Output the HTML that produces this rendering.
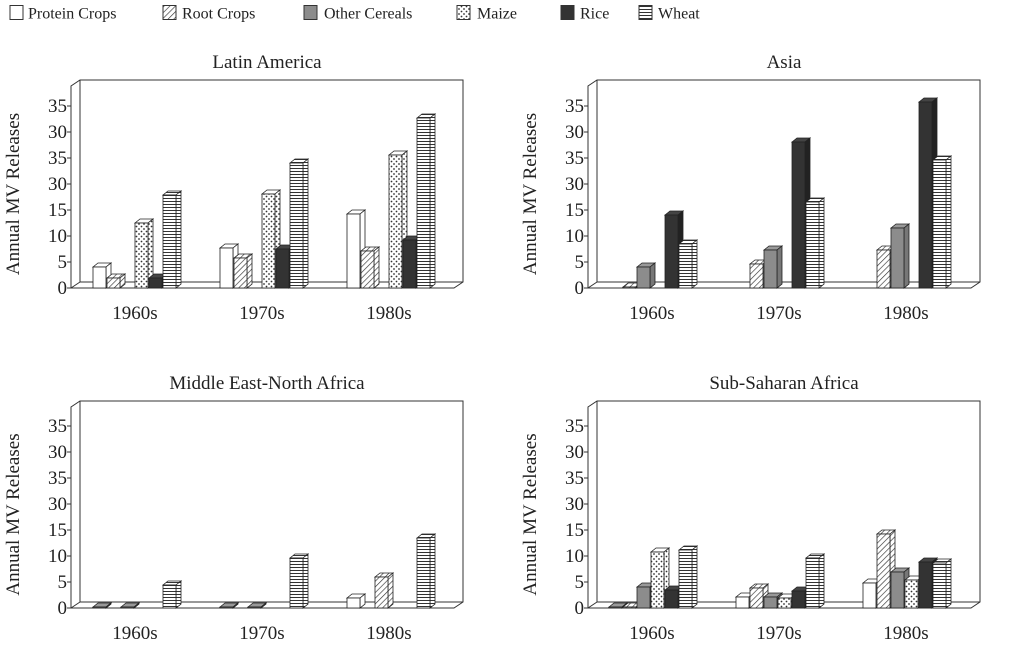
<!DOCTYPE html><html><head><meta charset="utf-8"><style>
body{margin:0;background:#fff}svg{display:block}
text{font-family:"Liberation Serif",serif;fill:#222}
</style></head><body>
<svg id="s" width="1024" height="647" xmlns="http://www.w3.org/2000/svg">
<defs>
<pattern id="hatch" width="4" height="4" patternUnits="userSpaceOnUse" patternTransform="rotate(45)"><rect width="4" height="4" fill="#fff"/><line x1="0" y1="0" x2="0" y2="4" stroke="#333" stroke-width="1.3"/></pattern>
<pattern id="dots" width="5" height="5" patternUnits="userSpaceOnUse"><rect width="5" height="5" fill="#fff"/><circle cx="1.5" cy="1.5" r="0.9" fill="#333"/><circle cx="4" cy="4" r="0.9" fill="#333"/></pattern>
<pattern id="hl" width="4" height="3" patternUnits="userSpaceOnUse"><rect width="4" height="3" fill="#fff"/><line x1="0" y1="0.5" x2="4" y2="0.5" stroke="#333" stroke-width="1"/></pattern>
</defs>
<g id="g"></g>
</svg>
<script>
var g=document.getElementById('g'),h='';
var fills=['#fff','url(#hatch)','#8c8c8c','url(#dots)','#333','url(#hl)'];
var sides=['#fff','url(#hatch)','#777','url(#dots)','#222','url(#hl)'];
var tops=['#fff','url(#hatch)','#999','#fff','#444','url(#hl)'];
var L=[[10,28,'Protein Crops'],[163,182,'Root Crops'],[304,324,'Other Cereals'],[457,477,'Maize'],[561,580,'Rice'],[639,658,'Wheat']];
L.forEach(function(l,i){h+='<rect x="'+l[0]+'" y="5.5" width="13" height="14" fill="'+fills[i]+'" stroke="#333"/>';h+='<text x="'+l[1]+'" y="18.5" font-size="16">'+l[2]+'</text>';});
function panel(ax,top,base,title,bars){
 var bx=ax+9,by=top,rx=ax+392,bb=base-6;
 h+='<text x="'+(ax+196)+'" y="'+(top-12)+'" font-size="19" text-anchor="middle">'+title+'</text>';
 h+='<polyline points="'+ax+','+base+' '+ax+','+(top+6)+' '+bx+','+top+' '+rx+','+top+' '+rx+','+bb+' '+(rx-9)+','+base+' '+ax+','+base+'" fill="none" stroke="#333" stroke-width="1"/>';
 h+='<polyline points="'+bx+','+top+' '+bx+','+bb+' '+rx+','+bb+'" fill="none" stroke="#333" stroke-width="1"/>';
 h+='<line x1="'+ax+'" y1="'+base+'" x2="'+bx+'" y2="'+bb+'" stroke="#333"/>';
 var lab=['0','5','10','15','30','35','30','35'];
 for(var i=0;i<8;i++){var y=base-26*i;h+='<line x1="'+(ax-4)+'" y1="'+y+'" x2="'+ax+'" y2="'+y+'" stroke="#333"/>';h+='<text x="'+(ax-4)+'" y="'+(y+6)+'" font-size="19" text-anchor="end">'+lab[i]+'</text>';}
 var cy=(top+base)/2+10;
 h+='<text transform="translate('+(ax-52)+','+cy+') rotate(-90)" font-size="19" text-anchor="middle">Annual MV Releases</text>';
 ['1960s','1970s','1980s'].forEach(function(t,k){h+='<text x="'+(ax+64+127*k)+'" y="'+(base+31)+'" font-size="19" text-anchor="middle">'+t+'</text>';});
 bars.forEach(function(b){var x=b[0],yt=b[1],c=b[2],w=13,dx=5,dy=4;if(yt>base-1)yt=base-1;
  h+='<polygon points="'+x+','+yt+' '+(x+dx)+','+(yt-dy)+' '+(x+w+dx)+','+(yt-dy)+' '+(x+w)+','+yt+'" fill="'+tops[c]+'" stroke="#222" stroke-width="0.8"/>';
  h+='<polygon points="'+(x+w)+','+yt+' '+(x+w+dx)+','+(yt-dy)+' '+(x+w+dx)+','+(base-dy)+' '+(x+w)+','+base+'" fill="'+sides[c]+'" stroke="#222" stroke-width="0.8"/>';
  h+='<rect x="'+x+'" y="'+yt+'" width="'+w+'" height="'+(base-yt)+'" fill="'+fills[c]+'" stroke="#222" stroke-width="0.8"/>';});
}
function B(g0,list){var r=[];list.forEach(function(e){r.push([g0[e[0]]+e[1]*14,e[2],e[3]]);});return r;}
var GL=[93,220,347],GR=[609,736,863];
panel(71,80,288,'Latin America',B(GL,[[0,0,267,0],[0,1,278,1],[0,3,223,3],[0,4,278,4],[0,5,195,5],[1,0,248,0],[1,1,258,1],[1,3,194,3],[1,4,249,4],[1,5,163,5],[2,0,214,0],[2,1,251,1],[2,3,155,3],[2,4,240,4],[2,5,118,5]]));
panel(588,80,288,'Asia',B(GR,[[0,1,288,1],[0,2,267,2],[0,4,215,4],[0,5,244,5],[1,1,264,1],[1,2,250,2],[1,4,142,4],[1,5,202,5],[2,1,250,1],[2,2,228,2],[2,4,102,4],[2,5,160,5]]));
panel(71,401,608,'Middle East-North Africa',B(GL,[[0,0,608,2],[0,2,608,2],[0,5,585,5],[1,0,608,2],[1,2,608,2],[1,5,558,5],[2,0,598,0],[2,2,577,1],[2,5,538,5]]));
panel(588,401,608,'Sub-Saharan Africa',B(GR,[[0,0,608,2],[0,1,608,1],[0,2,587,2],[0,3,552,3],[0,4,590,4],[0,5,550,5],[1,0,597,0],[1,1,588,1],[1,2,597,2],[1,3,598,3],[1,4,591,4],[1,5,558,5],[2,0,583,0],[2,1,534,1],[2,2,572,2],[2,3,580,3],[2,4,562,4],[2,5,563,5]]));
g.innerHTML=h;
</script>
</body></html>
